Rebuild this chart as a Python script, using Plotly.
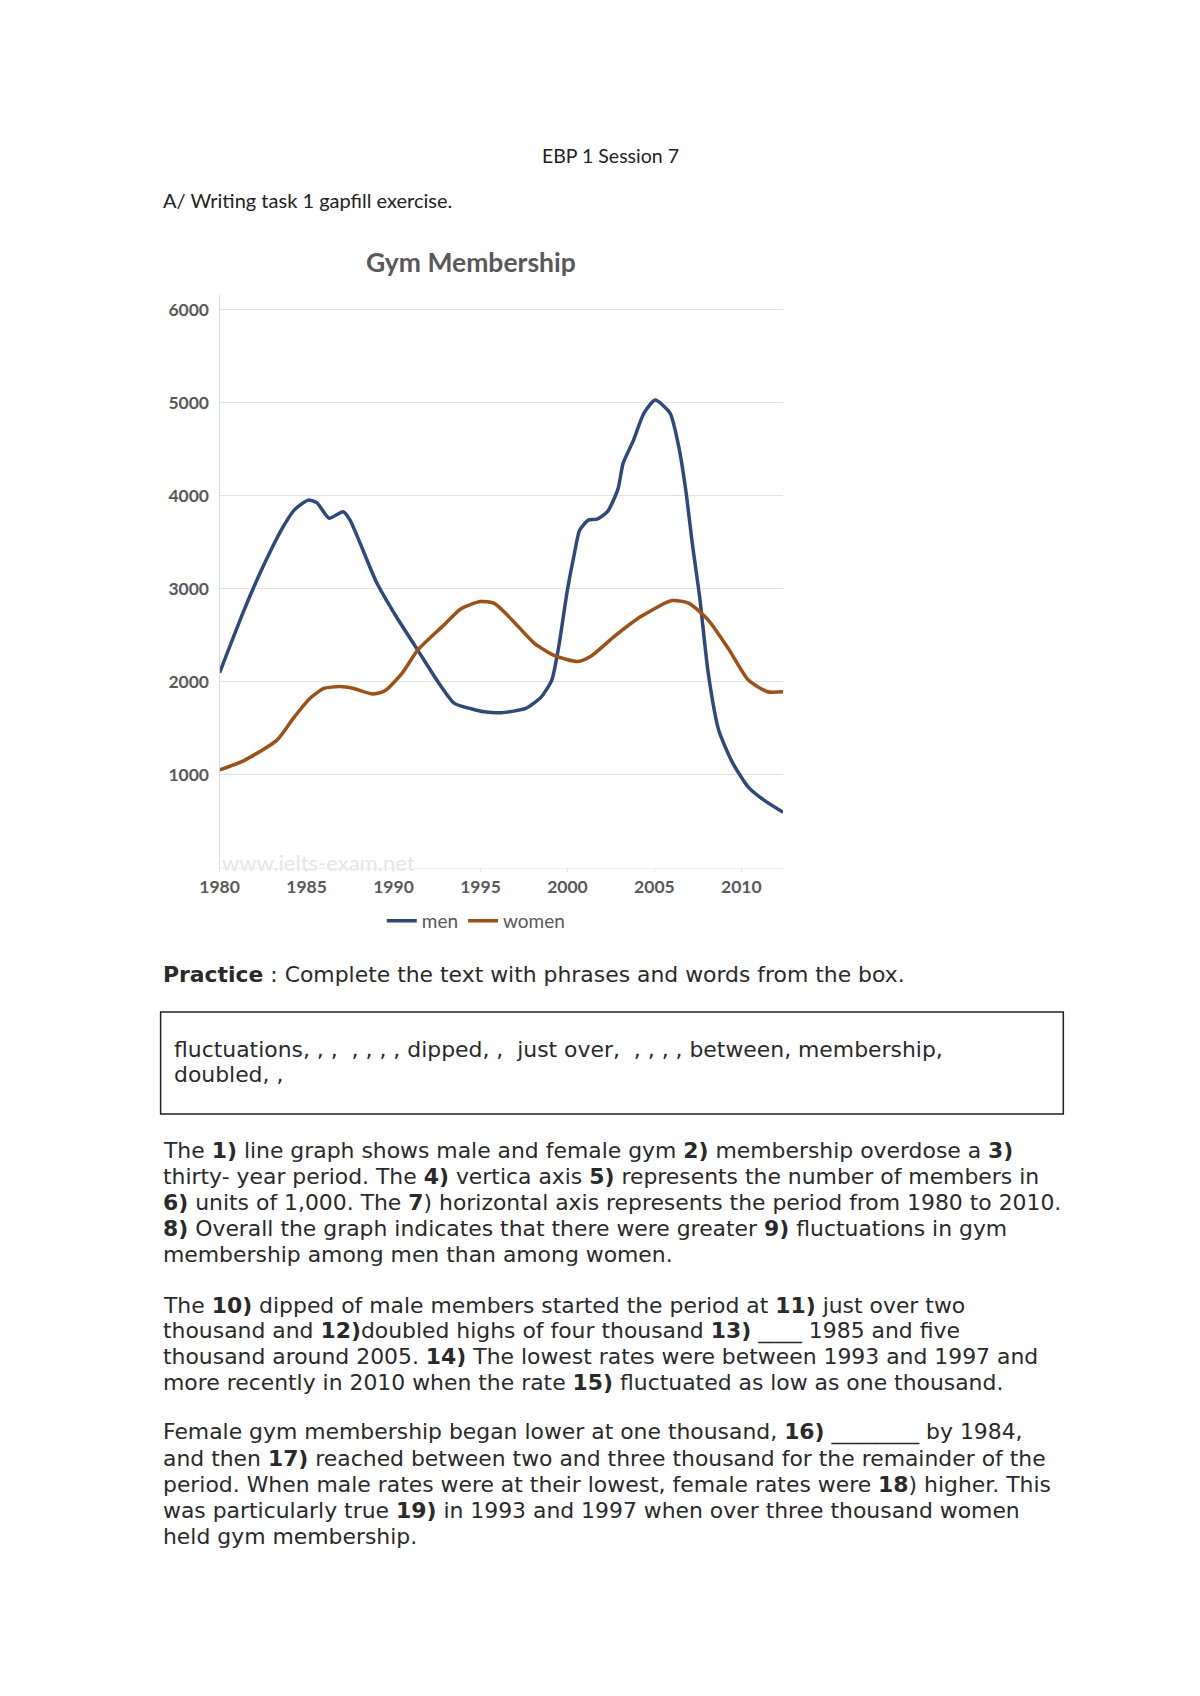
import plotly.graph_objects as go

# ---------------- data ----------------
men_years = [1980.0, 1981.4, 1982.4, 1983.6, 1984.3, 1985.1, 1985.6, 1986.3, 1987.1, 1987.5,
             1989.0, 1990.1, 1991.4, 1992.6, 1993.5, 1994.5, 1995.2, 1996.2, 1997.6, 1998.5,
             1999.1, 1999.5, 2000.0, 2000.4, 2000.7, 2001.2, 2001.7, 2002.3, 2002.9, 2003.2,
             2003.8, 2004.4, 2005.05, 2005.9, 2006.4, 2006.8, 2007.2, 2007.6, 2008.1, 2008.7,
             2009.5, 2010.4, 2011.3, 2012.4]
men_values = [2100, 2770, 3200, 3650, 3850, 3955, 3925, 3760, 3830, 3740,
              3080, 2720, 2340, 1990, 1770, 1710, 1680, 1670, 1715, 1840,
              2020, 2380, 2990, 3380, 3630, 3740, 3750, 3830, 4070, 4350,
              4600, 4890, 5030, 4890, 4530, 4070, 3460, 2920, 2090, 1480,
              1130, 870, 730, 600]

women_years = [1980.0, 1981.4, 1983.3, 1984.3, 1985.2, 1986.0, 1986.9, 1987.7, 1988.8, 1989.5,
               1990.5, 1991.4, 1992.8, 1993.9, 1995.0, 1995.8, 1996.8, 1998.1, 1999.3, 2000.6,
               2001.3, 2002.7, 2004.2, 2006.0, 2007.0, 2008.1, 2009.3, 2010.4, 2011.5, 2012.4]
women_values = [1055, 1155, 1375, 1625, 1825, 1930, 1950, 1930, 1870, 1905,
                2095, 2345, 2595, 2790, 2865, 2845, 2670, 2415, 2280, 2220,
                2270, 2490, 2700, 2875, 2845, 2665, 2345, 2020, 1895, 1895]

x_ticks = [1980, 1985, 1990, 1995, 2000, 2005, 2010]
y_ticks = [1000, 2000, 3000, 4000, 5000, 6000]

series_names = ["men", "women"]
chart_title = "Gym Membership"
watermark = "www.ielts-exam.net"

header = "EBP 1 Session 7"
subheader = "A/ Writing task 1 gapfill exercise."
practice = "<b>Practice</b> : Complete the text with phrases and words from the box."
box_lines = [
    "fluctuations, , ,  , , , , dipped, ,  just over,  , , , , between, membership,",
    "doubled, ,",
]
para1 = [
    "The <b>1)</b> line graph shows male and female gym <b>2)</b> membership overdose a <b>3)</b>",
    "thirty- year period. The <b>4)</b> vertica axis <b>5)</b> represents the number of members in",
    "<b>6)</b> units of 1,000. The <b>7</b>) horizontal axis represents the period from 1980 to 2010.",
    "<b>8)</b> Overall the graph indicates that there were greater <b>9)</b> fluctuations in gym",
    "membership among men than among women.",
]
para2 = [
    "The <b>10)</b> dipped of male members started the period at <b>11)</b> just over two",
    "thousand and <b>12)</b>doubled highs of four thousand <b>13)</b> ____ 1985 and five",
    "thousand around 2005. <b>14)</b> The lowest rates were between 1993 and 1997 and",
    "more recently in 2010 when the rate <b>15)</b> fluctuated as low as one thousand.",
]
para3 = [
    "Female gym membership began lower at one thousand, <b>16)</b> ________ by 1984,",
    "and then <b>17)</b> reached between two and three thousand for the remainder of the",
    "period. When male rates were at their lowest, female rates were <b>18</b>) higher. This",
    "was particularly true <b>19)</b> in 1993 and 1997 when over three thousand women",
    "held gym membership.",
]

# ---------------- layout helpers ----------------
W, H = 1200, 1696
def px(x):
    return x / W
def py(y):
    return 1 - y / H

MEN_C = "#2c4a7e"
WOMEN_C = "#a24f14"
GRAY = "#595959"
CH_FONT = "Lato"
DOC_FONT = "DejaVu Sans"
TXT_C = "#2a2a2a"
BODY = 21.9

fig = go.Figure()
fig.add_trace(go.Scatter(x=men_years, y=men_values, mode="lines", name=series_names[0],
                         line=dict(color=MEN_C, width=3.5, shape="spline", smoothing=0.6)))
fig.add_trace(go.Scatter(x=women_years, y=women_values, mode="lines", name=series_names[1],
                         line=dict(color=WOMEN_C, width=3.5, shape="spline", smoothing=0.6)))

annotations = []
def txt(x, y, s, size, font=DOC_FONT, color=TXT_C, anchor="left"):
    annotations.append(dict(x=px(x), y=py(y), xref="paper", yref="paper", text=s,
                            showarrow=False, xanchor=anchor, yanchor="middle",
                            font=dict(family=font, size=size, color=color)))

txt(601, 156, header, 19.5, font=CH_FONT, color="#222", anchor="center")
txt(143, 200, subheader, 20, font=CH_FONT, color="#222")
txt(459, 262, "<b>" + chart_title + "</b>", 26.5, font=CH_FONT, color=GRAY, anchor="center")
txt(203, 862, watermark, 22, font=CH_FONT, color="#e6e6e6")

txt(143, 974, practice, BODY)
for i, s in enumerate(box_lines):
    txt(155, 1049 + i * 25, s, BODY)
for i, s in enumerate(para1):
    txt(143, 1150 + i * 26.1, s, BODY)
for i, s in enumerate(para2):
    txt(143, 1305 + i * 25.8, s, BODY)
for i, s in enumerate(para3):
    txt(143, 1432 + i * 26, s, BODY)

shapes = [dict(type="rect", xref="paper", yref="paper",
               x0=px(143), x1=px(1061), y0=py(1012), y1=py(1114),
               line=dict(color="#222", width=1.5))]

fig.update_layout(
    width=W, height=H,
    margin=dict(l=0, r=0, t=0, b=0),
    paper_bgcolor="white", plot_bgcolor="white",
    annotations=annotations, shapes=shapes,
    showlegend=True,
    legend=dict(orientation="h", x=px(464), xanchor="center", y=py(921), yanchor="middle",
                font=dict(family=CH_FONT, size=19, color=GRAY), itemwidth=30,
                bgcolor="rgba(0,0,0,0)"),
    xaxis=dict(domain=[px(203), px(776)], range=[1980, 2012.4],
               tickvals=x_ticks, ticktext=["<b>%d</b>" % v for v in x_ticks],
               tickfont=dict(family=CH_FONT, size=17.5, color=GRAY),
               showgrid=False, zeroline=False, showline=True, linecolor="#efefef",
               ticks="outside", ticklen=3, tickcolor="#e6e6e6"),
    yaxis=dict(domain=[py(868), py(295)], range=[0, 6160],
               tickvals=y_ticks, ticktext=["<b>%d</b>" % v for v in y_ticks],
               tickfont=dict(family=CH_FONT, size=17.5, color=GRAY),
               showgrid=True, gridcolor="#e3e3e3", gridwidth=1.2,
               zeroline=False, showline=True, linecolor="#d9d9d9", linewidth=1.2,
               ticks="", ticklabelstandoff=6),
)

fig.write_html("out.html", config={"displayModeBar": False},
               post_script="document.body.style.margin='0';document.body.style.overflow='hidden';")
